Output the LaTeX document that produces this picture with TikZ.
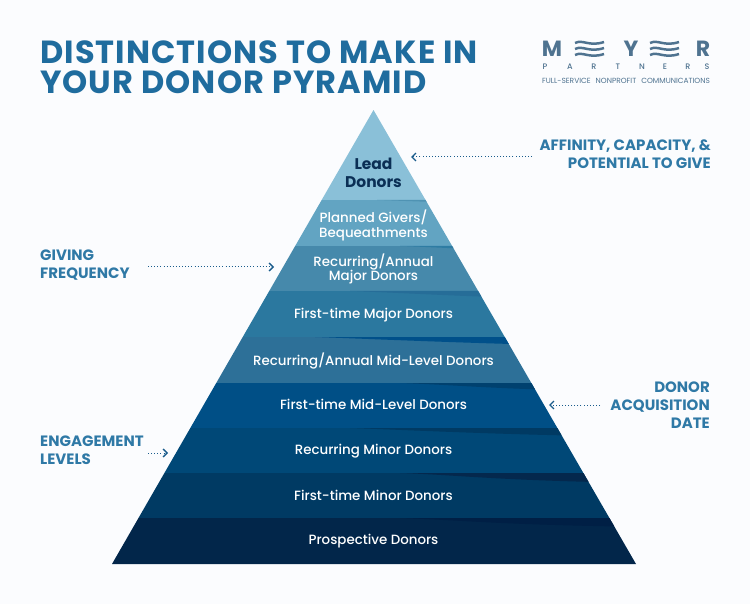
\documentclass[tikz,border=0pt]{standalone}
\usepackage{fontspec}
\setmainfont{Poppins}
\newfontfamily\titlefont[LetterSpace=3.4]{Poppins}
\newfontfamily\medfont{Poppins Medium}
\usetikzlibrary{arrows.meta}
\definecolor{pagebg}{HTML}{FBFCFE}
\definecolor{accent}{HTML}{2F79A6}
\definecolor{titleblue}{HTML}{1F6C9E}
\definecolor{arrowblue}{HTML}{1A5C8C}
\definecolor{logogrey}{HTML}{4F7390}
\definecolor{leadtext}{HTML}{0B2F55}
\definecolor{ba}{HTML}{8AC0D8}\definecolor{sa}{HTML}{8AC0D8}
\definecolor{bb}{HTML}{62A4C2}\definecolor{sb}{HTML}{4F93B3}
\definecolor{bc}{HTML}{4689AB}\definecolor{sc}{HTML}{2E7CA3}
\definecolor{bd}{HTML}{2B789F}\definecolor{sd}{HTML}{266D98}
\definecolor{be}{HTML}{2D7098}\definecolor{se}{HTML}{00508A}
\definecolor{bf}{HTML}{004F86}\definecolor{sf}{HTML}{00416F}
\definecolor{bg}{HTML}{004877}\definecolor{sg}{HTML}{003A63}
\definecolor{bh}{HTML}{003A63}\definecolor{sh}{HTML}{04284D}
\definecolor{bi}{HTML}{02264A}\definecolor{si}{HTML}{001F45}
\tikzset{
  bandlabel/.style={text=white,font=\fontsize{13.4}{14.8}\selectfont\medfont,align=center,inner sep=0pt},
  bandsingle/.style={bandlabel,anchor=base},
  sidelabel/.style={text=accent,font=\fontsize{15}{18}\selectfont\bfseries,inner sep=0pt},
  pointer/.style={arrowblue,dash pattern=on 1pt off 2.1pt,line width=1pt,-{Straight Barb[length=4pt,width=8pt,line width=1.3pt]}},
  wave/.style={logogrey,line width=2.5pt},
  logoletter/.style={text=logogrey,font=\fontsize{22}{22}\selectfont\bfseries,inner sep=0pt,anchor=base},
  logosmall/.style={text=logogrey,font=\fontsize{8}{8}\selectfont\medfont,inner sep=0pt,anchor=base},
}
\begin{document}
\begin{tikzpicture}[x=1pt,y=-1pt]
\useasboundingbox (0,0) rectangle (750,604);
\fill[pagebg] (0,0) rectangle (750,604);
% pyramid bands
\begin{scope}
\clip (373.5,110) -- (636,564) -- (112,564) -- cycle;
\foreach \t/\b/\c/\s/\xs/\yr in {
  110/200/ba/sa/700/200,
  200/246/bb/sb/377/207,
  246/291/bc/sc/400/254,
  291/337/bd/sd/350/301,
  337/383/be/se/315/347,
  383/428/bf/sf/400/392,
  428/473/bg/sg/350/437,
  473/518/bh/sh/400/483,
  518/565/bi/si/400/527}{
  \fill[\c] (100,\t) rectangle (650,\b);
  \fill[\s] (\xs,\t) .. controls ({\xs+60},{\t+2}) and (500,{\yr-2}) .. (650,\yr) -- (650,\t) -- cycle;
}
\end{scope}
% title
\node[anchor=west,inner sep=0pt,text=titleblue,font=\fontsize{32}{36}\selectfont\bfseries\titlefont] (title1) at (40,52.5) {DISTINCTIONS TO MAKE IN};
\node[anchor=west,inner sep=0pt,text=titleblue,font=\fontsize{32}{36}\selectfont\bfseries\titlefont] (title2) at (40,82.5) {YOUR DONOR PYRAMID};
% logo
\node[logoletter] (logoM) at (552,57) {M};
\node[logoletter] (logoY) at (631,57) {Y};
\node[logoletter] (logoR) at (703,57) {R};
\foreach \x in {575,650}{
  \foreach \y in {43,49,55}{
    \draw[wave] (\x,\y) .. controls (\x+8,\y-4) and (\x+14,\y+4) .. (\x+29,\y-1);
  }
}
\foreach \lt/\x in {P/545,A/570,R/594,T/618,N/642,E/665,R/688,S/707}{
  \node[logosmall] (logo\x) at (\x,69.5) {\lt};
}
\node[anchor=west,inner sep=0pt,text=logogrey,font=\fontsize{7.45}{7}\selectfont] (tagline) at (542,81) {FULL-SERVICE\hspace{3pt} NONPROFIT\hspace{3pt} COMMUNICATIONS};
% band labels
\node[bandlabel,text=leadtext,font=\fontsize{15.5}{18}\selectfont\bfseries] (lead) at (373.5,172.5) {Lead\\Donors};
\node[bandlabel] (planned) at (373.5,225.5) {Planned Givers/\\Bequeathments};
\node[bandlabel] (recmajor) at (373.5,269) {Recurring/Annual\\Major Donors};
\node[bandsingle] (firstmajor) at (373.5,319) {First-time Major Donors};
\node[bandsingle] (recmid) at (373.5,365) {Recurring/Annual Mid-Level Donors};
\node[bandsingle] (firstmid) at (373.5,409) {First-time Mid-Level Donors};
\node[bandsingle] (recminor) at (373.5,454) {Recurring Minor Donors};
\node[bandsingle] (firstminor) at (373.5,500) {First-time Minor Donors};
\node[bandsingle] (prospect) at (373.5,544) {Prospective Donors};
% side labels
\node[sidelabel,anchor=east,align=right] (affinity) at (711,154.5) {AFFINITY, CAPACITY, \&\\POTENTIAL TO GIVE};
\node[sidelabel,anchor=west,align=left] (giving) at (40,265.5) {GIVING\\FREQUENCY};
\node[sidelabel,anchor=west,align=left] (engage) at (40,450.5) {ENGAGEMENT\\LEVELS};
\node[sidelabel,anchor=east,align=right] (acq) at (710,405.5) {DONOR\\ACQUISITION\\DATE};
% pointers
\coordinate (pa0) at (532,157); \coordinate (pa1) at (411,157);
\coordinate (pb0) at (148,267); \coordinate (pb1) at (274,267);
\coordinate (pc0) at (148,453); \coordinate (pc1) at (168,453);
\coordinate (pd0) at (600,405); \coordinate (pd1) at (549,405);
\draw[pointer] (pa0) -- (pa1);
\draw[pointer] (pb0) -- (pb1);
\draw[pointer] (pc0) -- (pc1);
\draw[pointer] (pd0) -- (pd1);
\end{tikzpicture}
\end{document}
